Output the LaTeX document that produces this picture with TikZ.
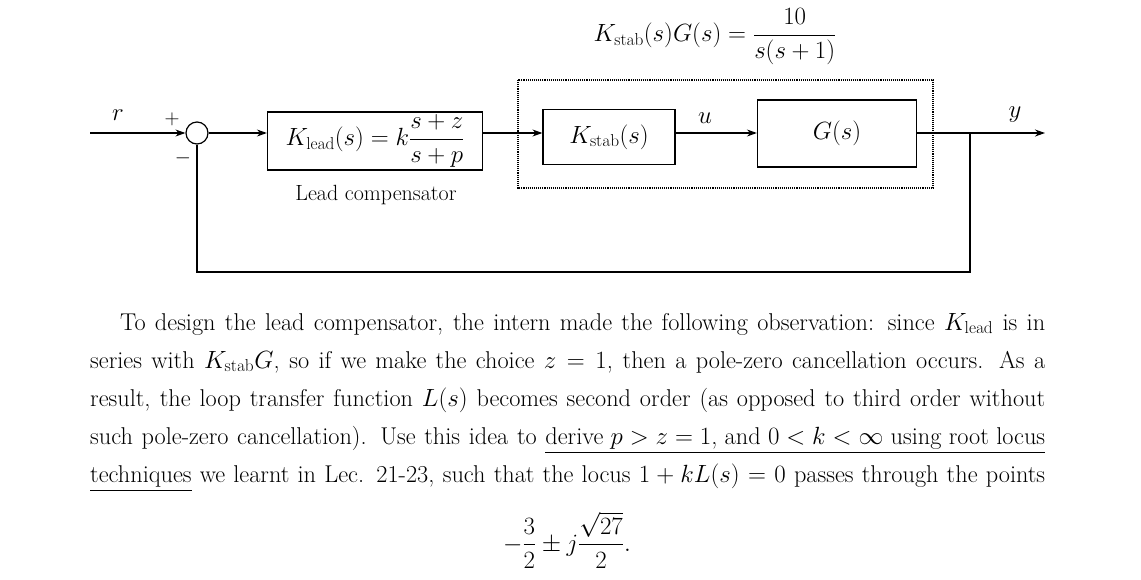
\documentclass[tikz,border=0pt]{standalone}
\usepackage{amsmath}
\usetikzlibrary{arrows.meta}
\begin{document}
\begin{tikzpicture}[x=1pt,y=-1pt,
  blk/.style={draw,line width=1.2pt,minimum height=#1},
  sig/.style={-{Stealth[length=10pt,width=7pt]},line width=1.1pt},
  ln/.style={line width=1.1pt},
  font=\fontsize{25}{30}\selectfont]
\useasboundingbox (0,0) rectangle (1141,579);
\node at (715,37) {$K_{\mathrm{stab}}(s)G(s)=\dfrac{10}{s(s+1)}$};
\draw[line width=1.1pt,densely dotted] (518,80) rectangle (933,188);
\node[draw,circle,line width=1.2pt,minimum size=22pt,inner sep=0] (sum) at (197,133) {};
\node[blk=58pt,minimum width=215pt,inner sep=1pt,font=\fontsize{23.5}{26}\selectfont] (kl) at (375,141) {$K_{\mathrm{lead}}(s)=k\dfrac{s+z}{s+p}$};
\node[blk=55pt,minimum width=132pt,font=\fontsize{24}{28}\selectfont] (ks) at (609,137) {$K_{\mathrm{stab}}(s)$};
\node[blk=67pt,minimum width=159pt,font=\fontsize{24}{28}\selectfont] (g) at (837,133.5) {$G(s)$};
\coordinate (in) at (90,133);
\coordinate (out) at (1045,133);
\coordinate (br) at (970,133);
\coordinate (fb1) at (970,272);
\coordinate (fb2) at (197,272);
\draw[sig] (in) -- (sum);
\draw[sig] (sum) -- (sum -| kl.west);
\draw[sig] (kl.east |- sum) -- (ks.west |- sum);
\draw[sig] (ks.east |- sum) -- (g.west |- sum);
\draw[sig] (g.east |- sum) -- (out);
\draw[ln] (br) -- (fb1) -- (fb2) -- (sum.south);
\node at (118,115) {$r$};
\node[font=\fontsize{20}{24}\selectfont] at (172,119) {$+$};
\node[font=\fontsize{20}{24}\selectfont] at (183,158) {$-$};
\node at (705,118) {$u$};
\node at (1015,115) {$y$};
\node[font=\fontsize{22}{26}\selectfont] at (376,195) {Lead compensator};
\node[anchor=north west,text width=955pt,align=justify,inner sep=0,font=\fontsize{24.3}{38}\selectfont] (p) at (90,313) {\hspace*{30pt}To design the lead compensator, the intern made the following observation: since $K_{\mathrm{lead}}$ is in\linebreak series with $K_{\mathrm{stab}}G$, so if we make the choice $z=1$, then a pole-zero cancellation occurs. As a\linebreak result, the loop transfer function $L(s)$ becomes second order (as opposed to third order without\linebreak such pole-zero cancellation). Use this idea to \underline{derive $p>z=1$, and $0<k<\infty$ using root locus}\linebreak \underline{techniques} we learnt in Lec. 21-23, such that the locus $1+kL(s)=0$ passes through the points\linebreak};
\node[font=\fontsize{25}{28}\selectfont] (eq) at (567,540) {$-\dfrac{3}{2}\pm j\dfrac{\sqrt{27}}{2}.$};
\end{tikzpicture}
\end{document}
